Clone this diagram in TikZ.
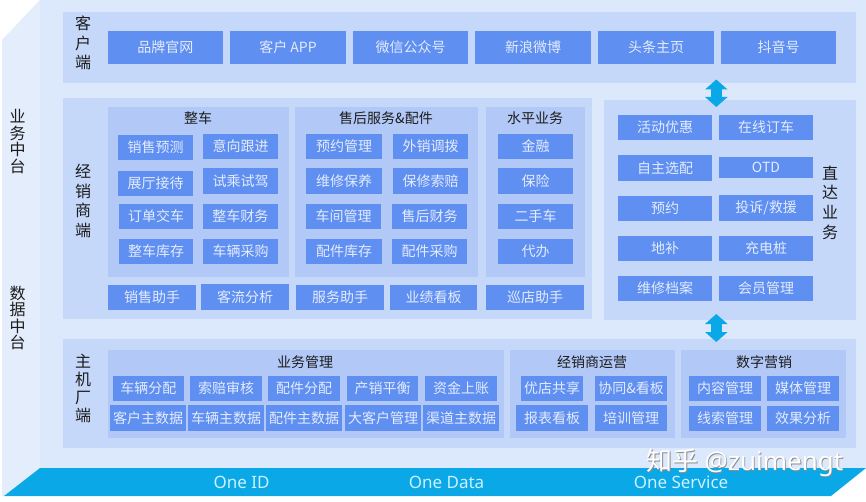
\documentclass[tikz,border=0pt]{standalone}
\usepackage{fontspec}
\setmainfont{Noto Sans CJK SC}
\newfontfamily\latinf{Noto Sans}
\usetikzlibrary{arrows.meta}
\definecolor{wallback}{HTML}{DCE8FB}
\definecolor{wallleft}{HTML}{E4EDFB}
\definecolor{panelc}{HTML}{C5D8FA}
\definecolor{subc}{HTML}{B2C8F6}
\definecolor{boxc}{HTML}{5F8FF0}
\definecolor{boxt}{HTML}{E4ECFF}
\definecolor{floorc}{HTML}{0AA8E6}
\definecolor{floort}{HTML}{CDF1FF}
\definecolor{inkc}{HTML}{1C1C1C}
\tikzset{
  panel/.style={fill=panelc,inner sep=0pt},
  subpanel/.style={fill=subc,inner sep=0pt},
  box/.style={fill=boxc,text=boxt,inner sep=0pt,font=\fontsize{14}{16}\selectfont},
  title/.style={text=inkc,inner sep=0pt,font=\fontsize{14}{16}\selectfont},
  sidelabel/.style={text=inkc,inner sep=0pt,align=center,font=\fontsize{16}{19.6}\selectfont},
  walllabel/.style={text=inkc,inner sep=0pt,align=center,font=\fontsize{16}{16.5}\selectfont},
  floorlabel/.style={text=floort,inner sep=0pt,font=\fontsize{17}{20}\latinf},
  twoway/.style={draw=floorc,line width=11pt,{Triangle[width=22pt,length=10pt]}-{Triangle[width=22pt,length=10pt]}},
}
\newcommand{\bxn}[7][box]{%
  \pgfmathsetmacro{\bw}{#5-#3}\pgfmathsetmacro{\bh}{#6-#4}%
  \pgfmathsetmacro{\bx}{(#3+#5)/2}\pgfmathsetmacro{\by}{(#4+#6)/2}%
  \node[#1,minimum width=\bw pt,minimum height=\bh pt] (#2) at (\bx,\by) {#7};}
\begin{document}
\begin{tikzpicture}[x=1pt,y=-1pt]
\useasboundingbox (0,0) rectangle (866,502);
% walls and floor
\fill[white] (0,0) rectangle (866,502);
\fill[wallback] (40,0) -- (866,0) -- (866,468) -- (40,468) -- cycle;
\fill[wallleft] (2,40) -- (40,0) -- (40,468) -- (4,496) -- (2,496) -- cycle;
\fill[floorc] (40,468) -- (866,468) -- (831,496) -- (4,496) -- cycle;
% panels
\bxn[panel]{pclient}{63}{12}{856}{83}{}
\bxn[panel]{pdealer}{63}{98.5}{592}{319}{}
\bxn[panel]{pdirect}{604}{100}{856}{320}{}
\bxn[panel]{phost}{63}{339}{856}{448}{}
\bxn[subpanel]{swhole}{107.5}{107}{289}{277}{}
\bxn[subpanel]{sservice}{295}{107}{477.5}{277}{}
\bxn[subpanel]{shoriz}{486}{107}{585}{277}{}
\bxn[subpanel]{smanage}{107.5}{350}{504}{438}{}
\bxn[subpanel]{soper}{510}{350}{675}{438}{}
\bxn[subpanel]{sdigital}{681}{350}{846}{438}{}
% wall, side labels
\node[walllabel] (lbiz) at (17.5,141.5) {业\\务\\中\\台};
\node[walllabel] (ldata) at (17.5,318) {数\\据\\中\\台};
\node[sidelabel] (lclient) at (83,43) {客\\户\\端};
\node[sidelabel] (ldealer) at (83,201) {经\\销\\商\\端};
\node[sidelabel,font=\fontsize{16}{18}\selectfont] (lhost) at (83,388) {主\\机\\厂\\端};
\node[sidelabel] (ldirect) at (830,202.5) {直\\达\\业\\务};
% titles
\node[title] (twhole) at (198,118) {整车};
\node[title] (tservice) at (386,118) {售后服务\&配件};
\node[title] (thoriz) at (535,118) {水平业务};
\node[title] (tmanage) at (305,362) {业务管理};
\node[title] (toper) at (592,362) {经销商运营};
\node[title] (tdigital) at (764,362) {数字营销};
% client row
\bxn{c1}{107.5}{31}{223}{64}{品牌官网}
\bxn{c2}{230}{31}{346}{64}{客户 APP}
\bxn{c3}{353}{31}{468}{64}{微信公众号}
\bxn{c4}{475}{31}{591}{64}{新浪微博}
\bxn{c5}{598}{31}{714}{64}{头条主页}
\bxn{c6}{721}{31}{836}{64}{抖音号}
% whole car
\bxn{w1}{118}{135}{193}{160}{销售预测}
\bxn{w2}{203}{134}{278}{159}{意向跟进}
\bxn{w3}{118}{171}{193}{196}{展厅接待}
\bxn{w4}{203}{168}{278}{194}{试乘试驾}
\bxn{w5}{119}{204}{193}{229}{订单交车}
\bxn{w6}{203}{204}{277.5}{229}{整车财务}
\bxn{w7}{119}{239}{193}{264}{整车库存}
\bxn{w8}{203}{239}{278}{264}{车辆采购}
% after sales
\bxn{s1}{306}{134}{382}{159}{预约管理}
\bxn{s2}{393}{134}{468}{159}{外销调拨}
\bxn{s3}{306}{168}{382}{194}{维修保养}
\bxn{s4}{393}{168}{468}{194}{保修索赔}
\bxn{s5}{306}{204}{381}{229}{车间管理}
\bxn{s6}{392}{204}{467}{229}{售后财务}
\bxn{s7}{306}{239}{382}{264}{配件库存}
\bxn{s8}{392}{239}{467}{264}{配件采购}
% horizontal
\bxn{h1}{498}{134}{573}{159}{金融}
\bxn{h2}{498}{168}{573}{194}{保险}
\bxn{h3}{498}{204}{573}{229}{二手车}
\bxn{h4}{498}{239}{573}{264}{代办}
% dealer bottom row
\bxn{b1}{108}{285}{196}{310}{销售助手}
\bxn{b2}{201}{284}{289}{310}{客流分析}
\bxn{b3}{296}{285}{384}{310}{服务助手}
\bxn{b4}{390}{285}{477}{310}{业绩看板}
\bxn{b5}{486}{285}{584}{310}{巡店助手}
% direct
\bxn{d1}{618}{115}{712}{140}{活动优惠}
\bxn{d2}{719}{115}{813}{140}{在线订车}
\bxn{d3}{618}{155}{712}{181}{自主选配}
\bxn{d4}{719}{157}{813}{178}{OTD}
\bxn{d5}{618}{196}{712}{221}{预约}
\bxn{d6}{719}{195}{813}{221}{投诉/救援}
\bxn{d7}{618}{236}{712}{261}{地补}
\bxn{d8}{719}{236}{813}{261}{充电桩}
\bxn{d9}{618}{276}{712}{301}{维修档案}
\bxn{d10}{719}{276}{813}{301}{会员管理}
% host: business management
\bxn{m1}{112.5}{376}{184}{401}{车辆分配}
\bxn{m2}{190}{376}{262}{401}{索赔审核}
\bxn{m3}{268}{376}{340}{401}{配件分配}
\bxn{m4}{347}{376}{418}{401}{产销平衡}
\bxn{m5}{425}{376}{497}{401}{资金上账}
\bxn{m6}{110}{405}{186}{431}{客户主数据}
\bxn{m7}{188}{405}{264}{431}{车辆主数据}
\bxn{m8}{266}{405}{342}{431}{配件主数据}
\bxn{m9}{345}{405}{421}{431}{大客户管理}
\bxn{m10}{423}{405}{499}{431}{渠道主数据}
% host: dealer ops
\bxn{o1}{521}{376}{583}{401}{优店共享}
\bxn{o2}{595}{376}{667}{401}{协同\&看板}
\bxn{o3}{516}{405}{588}{431}{报表看板}
\bxn{o4}{595}{405}{667}{431}{培训管理}
% host: digital
\bxn{g1}{689}{376}{761}{401}{内容管理}
\bxn{g2}{767}{376}{839}{401}{媒体管理}
\bxn{g3}{689}{406}{761}{431}{线索管理}
\bxn{g4}{767}{406}{839}{431}{效果分析}
% two-way arrows
\coordinate (a1t) at (716.3,79.5);
\coordinate (a1b) at (716.3,107);
\coordinate (a2t) at (716.3,314);
\coordinate (a2b) at (716.3,342);
\draw[twoway] (a1t) -- (a1b);
\draw[twoway] (a2t) -- (a2b);
% floor labels
\node[floorlabel] (f1) at (241.5,482) {One ID};
\node[floorlabel] (f2) at (446.5,482) {One Data};
\node[floorlabel] (f3) at (681,482) {One Service};
% watermark
\node[text=black!45,inner sep=0pt,font=\fontsize{26}{28}\selectfont] (wms) at (745.8,463.8) {知乎 {\latinf @zuimengt}};
\node[text=white,inner sep=0pt,font=\fontsize{26}{28}\selectfont] (wm) at (745,463) {知乎 {\latinf @zuimengt}};
\end{tikzpicture}
\end{document}
